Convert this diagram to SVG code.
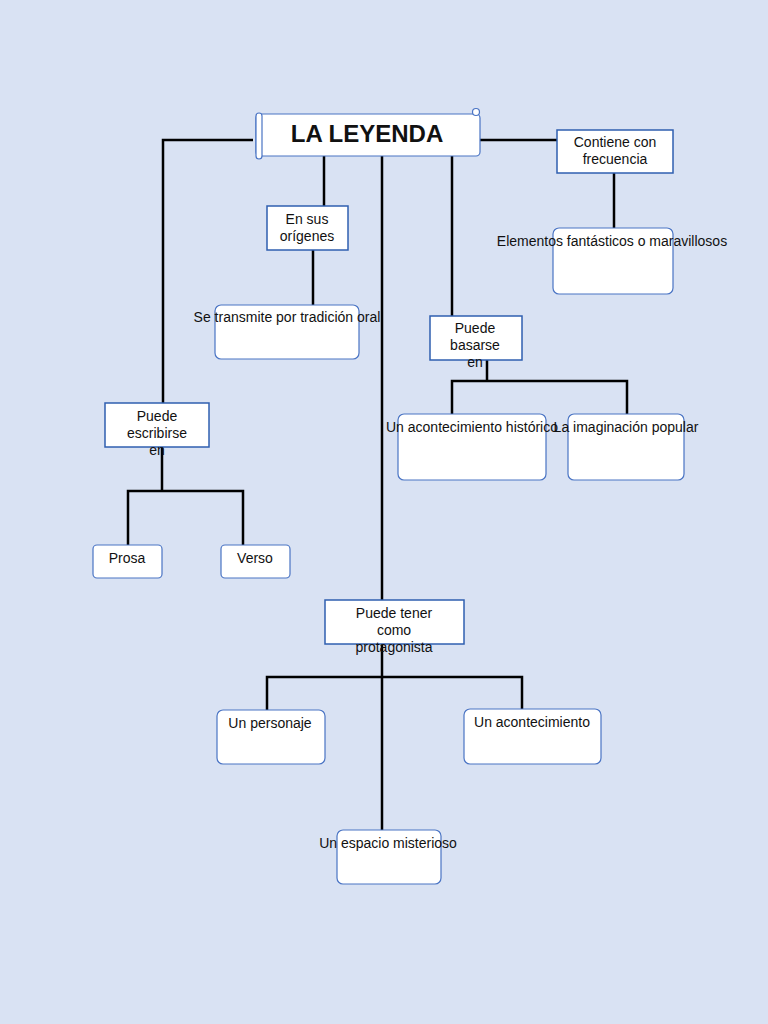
<svg xmlns="http://www.w3.org/2000/svg" width="768" height="1024" viewBox="0 0 768 1024">
<style>
.r{fill:#fff;stroke:#4a74c4;stroke-width:1.2}
.s{fill:#fff;stroke:#2f5fb0;stroke-width:1.5}
.c{stroke:#000;stroke-width:2.5;fill:none}
text{font-family:"Liberation Sans",Arial,sans-serif;font-size:14px;fill:#111;text-anchor:middle}
</style>
<rect width="768" height="1024" fill="#d9e2f3"/>
<g id="connectors" class="c">
<path d="M253 140H163V403"/>
<path d="M480 140H557"/>
<path d="M614 173V228"/>
<path d="M324 156V206"/>
<path d="M313 250V305"/>
<path d="M452 156V316"/>
<path d="M487 360V381M452 414V381H627V414"/>
<path d="M382 156V830"/>
<path d="M162 447V491M128 545V491H243V545"/>
<path d="M267 710V677H522V710"/>
</g>
<g id="title">
<rect x="256" y="114" width="224" height="42" rx="4" class="r"/>
<path d="M256 118v38a3 3 0 0 0 6 0v-40a3 3 0 0 0-6 0z" class="r"/>
<circle cx="476" cy="112" r="3.5" class="r"/>
<text x="367" y="142" style="font-size:24px;font-weight:bold">LA LEYENDA</text>
</g>
<g id="contiene"><rect x="557" y="130" width="116" height="43" class="s"/><text x="615" y="147">Contiene con</text><text x="615" y="164">frecuencia</text></g>
<g id="elementos"><rect x="553" y="228" width="120" height="66" rx="6" class="r"/><text x="612" y="246">Elementos fantásticos o maravillosos</text></g>
<g id="orig"><rect x="267" y="206" width="81" height="44" class="s"/><text x="307" y="224">En sus</text><text x="307" y="241">orígenes</text></g>
<g id="oral"><rect x="215" y="305" width="144" height="54" rx="6" class="r"/><text x="287" y="322">Se transmite por tradición oral</text></g>
<g id="basarse"><rect x="430" y="316" width="92" height="44" class="s"/><text x="475" y="333">Puede</text><text x="475" y="350">basarse</text><text x="475" y="367">en</text></g>
<g id="historico"><rect x="398" y="414" width="148" height="66" rx="6" class="r"/><text x="472" y="432">Un acontecimiento histórico</text></g>
<g id="imaginacion"><rect x="568" y="414" width="116" height="66" rx="6" class="r"/><text x="626" y="432">La imaginación popular</text></g>
<g id="escribirse"><rect x="105" y="403" width="104" height="44" class="s"/><text x="157" y="421">Puede</text><text x="157" y="438">escribirse</text><text x="157" y="455">en</text></g>
<g id="prosa"><rect x="93" y="545" width="69" height="33" rx="4" class="r"/><text x="127" y="563">Prosa</text></g>
<g id="verso"><rect x="221" y="545" width="69" height="33" rx="4" class="r"/><text x="255" y="563">Verso</text></g>
<g id="tener"><rect x="325" y="600" width="139" height="44" class="s"/><text x="394" y="618">Puede tener</text><text x="394" y="635">como</text><text x="394" y="652">protagonista</text></g>
<g id="personaje"><rect x="217" y="710" width="108" height="54" rx="6" class="r"/><text x="270" y="728">Un personaje</text></g>
<g id="acont"><rect x="464" y="709" width="137" height="55" rx="6" class="r"/><text x="532" y="727">Un acontecimiento</text></g>
<g id="espacio"><rect x="337" y="830" width="104" height="54" rx="6" class="r"/><text x="388" y="848">Un espacio misterioso</text></g>
</svg>
